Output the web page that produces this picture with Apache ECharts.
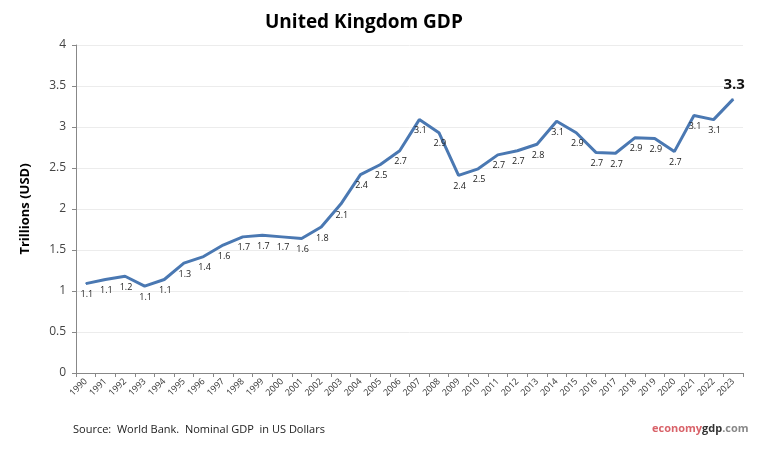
<!DOCTYPE html>
<html>
<head>
<meta charset="utf-8">
<script src="https://cdn.jsdelivr.net/npm/echarts@6/dist/echarts.min.js"></script>
<style>
  html, body { margin: 0; padding: 0; background: #fff; }
  #chart { width: 768px; height: 449px; }
</style>
</head>
<body>
<div id="chart"></div>
<script>
// years on the x axis
const years = ['1990', '1991', '1992', '1993', '1994', '1995', '1996', '1997', '1998', '1999',
  '2000', '2001', '2002', '2003', '2004', '2005', '2006', '2007', '2008', '2009',
  '2010', '2011', '2012', '2013', '2014', '2015', '2016', '2017', '2018', '2019',
  '2020', '2021', '2022', '2023']
// nominal GDP, trillions of USD
const gdp = [1.09, 1.14, 1.18, 1.06, 1.14, 1.34, 1.42, 1.56, 1.66, 1.68,
  1.66, 1.64, 1.78, 2.06, 2.42, 2.54, 2.71, 3.09, 2.93, 2.41,
  2.49, 2.66, 2.71, 2.79, 3.07, 2.93, 2.69, 2.68, 2.87, 2.86,
  2.70, 3.14, 3.09, 3.34]

const chart = echarts.init(document.getElementById('chart'))
const font = '"Open Sans", "DejaVu Sans", sans-serif'

const seriesData = gdp.map((v, i) => {
  if (i === gdp.length - 1) {
    // latest year gets a bigger bold label above the line
    return {
      value: v,
      label: { position: 'top', distance: 6, fontSize: 15, fontWeight: 'bold', color: '#111' }
    }
  }
  return v
})

chart.setOption({
  animation: false,
  title: {
    text: 'United Kingdom GDP',
    left: 260,
    top: 8,
    textStyle: { fontFamily: font, fontSize: 19, fontWeight: 'bold', color: '#000' }
  },
  grid: { left: 76, right: 25, top: 45, bottom: 76 },
  xAxis: {
    type: 'category',
    data: years,
    boundaryGap: true,
    axisLine: { lineStyle: { color: '#888' } },
    axisTick: { show: true, length: 4, lineStyle: { color: '#888' } },
    axisLabel: { rotate: 45, fontSize: 9, color: '#333', fontFamily: font, interval: 0, margin: 7 }
  },
  yAxis: {
    type: 'value',
    min: 0,
    max: 4,
    interval: 0.5,
    name: 'Trillions (USD)',
    nameLocation: 'middle',
    nameGap: 44,
    nameTextStyle: { fontFamily: font, fontSize: 13, fontWeight: 'bold', color: '#000' },
    axisLine: { show: true, lineStyle: { color: '#888' } },
    axisTick: { show: true, length: 4, lineStyle: { color: '#888' } },
    axisLabel: { fontSize: 12, color: '#444', fontFamily: font, margin: 10 },
    splitLine: { lineStyle: { color: '#ececec' } }
  },
  series: [{
    type: 'line',
    data: seriesData,
    symbol: 'circle',
    symbolSize: 1,
    itemStyle: { color: '#4a78b2' },
    lineStyle: { color: '#4a78b2', width: 3 },
    label: {
      show: true,
      position: 'bottom',
      distance: 6,
      offset: [1, 0],
      fontSize: 9,
      color: '#222',
      fontFamily: font,
      formatter: (p) => p.value.toFixed(1)
    }
  }],
  graphic: [
    {
      type: 'text',
      left: 73,
      top: 424,
      style: { text: 'Source:  World Bank.  Nominal GDP  in US Dollars', font: '11px ' + font, fill: '#222' }
    },
    {
      type: 'text',
      left: 652,
      top: 423,
      style: {
        text: '{a|economy}{b|gdp}{c|.com}',
        rich: {
          a: { fontFamily: font, fontSize: 11, fill: '#d9636a', fontWeight: 'bold' },
          b: { fontFamily: font, fontSize: 11, fill: '#333', fontWeight: 'bold' },
          c: { fontFamily: font, fontSize: 11, fill: '#888', fontWeight: 'bold' }
        }
      }
    }
  ]
})
</script>
</body>
</html>
